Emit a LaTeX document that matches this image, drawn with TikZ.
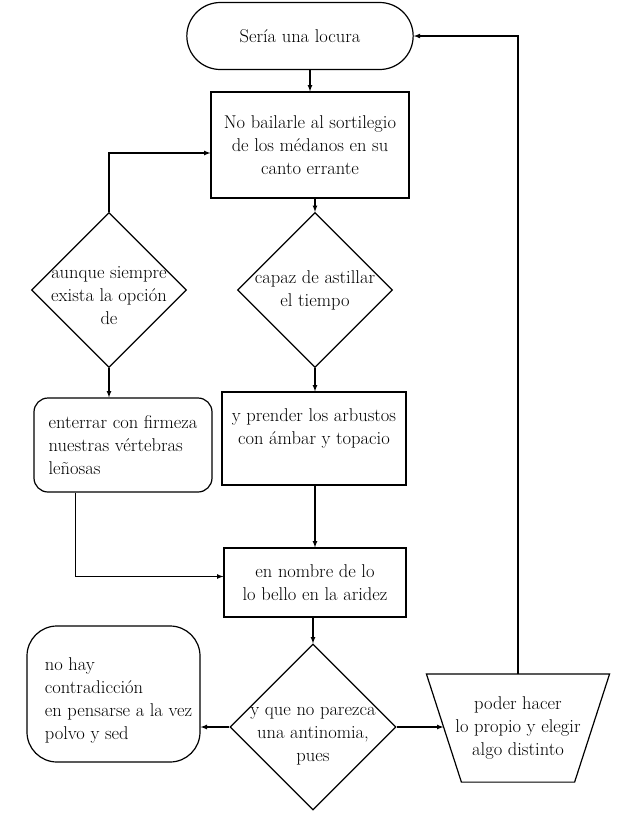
\documentclass[tikz,border=0pt]{standalone}
\usepackage{fontspec}
\usetikzlibrary{shapes.geometric,shapes.misc}

\begin{document}
\begin{tikzpicture}[x=1pt, y=-1pt,
    >=latex,   %Pfeilspitzen
    line width=1.2pt,
    font=\fontsize{18.5}{23}\selectfont,
    startknoten/.style={draw, rounded rectangle, minimum width=233pt, minimum height=67pt},
    kasten/.style={draw, align=center, inner sep=0pt},
    rundkasten/.style={draw, align=left, inner sep=0pt, rounded corners=#1},
    entscheidung/.style={draw, diamond, minimum width=#1, minimum height=#1, inner sep=0pt},
    trapez/.style={align=center, inner sep=0pt, minimum width=182pt, minimum height=107pt}]
    %Bildbereich
    \useasboundingbox (0,0) rectangle (629,815);
    %Knoten
    \node[startknoten] (start) at (300,36) {Sería una locura};
    \node[kasten, minimum width=198pt, minimum height=106pt] (bailar) at (310,145)
        {No bailarle al sortilegio\\de los médanos en su\\canto errante};
    \node[entscheidung=155pt, label={[align=center, yshift=-6pt]center:aunque siempre\\exista la opción\\de}] (opcion) at (109,290) {};
    \node[entscheidung=155pt, label={[align=center]center:capaz de astillar\\el tiempo}] (astillar) at (315,290) {};
    \node[rundkasten=14pt, minimum width=178pt, minimum height=94pt] (enterrar) at (123,445)
        {enterrar con firmeza\\nuestras vértebras\\leñosas};
    \node[kasten, minimum width=184pt, minimum height=93pt] (prender) at (314,438.5)
        {y prender los arbustos\\con ámbar y topacio\\\mbox{}};
    \node[kasten, minimum width=182pt, minimum height=69pt] (nombre) at (315,582.5)
        {en nombre de lo\\lo bello en la aridez};
    \node[entscheidung=166pt, label={[align=center, yshift=-9pt]center:y que no parezca\\una antinomia,\\pues}] (antinomia) at (313,727) {};
    \node[rundkasten=30pt, minimum width=173pt, minimum height=136pt,
        label={[align=left, xshift=5pt, yshift=-6pt]center:no hay\\contradicción\\en pensarse a la vez\\polvo y sed}] (polvo) at (113.5,694) {};
    \node[trapez] (elegir) at (518,728)
        {poder hacer\\lo propio y elegir\\algo distinto};
    %Trapez zeichnen
    \draw (elegir.north west) -- (elegir.north east) -- ([xshift=-35pt]elegir.south east)
        -- ([xshift=35pt]elegir.south west) -- cycle;
    %Pfeile
    \draw[->] (bailar.north |- start.south) -- (bailar.north);
    \draw[->] (astillar.north |- bailar.south) -- (astillar.north);
    \draw[->] (opcion.north) |- ([yshift=-8pt]bailar.west);
    \draw[->] (opcion.south) -- (opcion.south |- enterrar.north);
    \draw[->] (astillar.south) -- (astillar.south |- prender.north);
    \draw[->] (nombre.north |- prender.south) -- (nombre.north);
    \draw[->] ([xshift=42pt]enterrar.south west) |- ([yshift=6pt]nombre.west);
    \draw[->] (antinomia.north |- nombre.south) -- (antinomia.north);
    \draw[->] (antinomia.west) -- (antinomia.west -| polvo.east);
    \draw[->] (antinomia.east) -- ([xshift=17pt]antinomia.east -| elegir.west);
    \draw[->] (elegir.north) |- (start.east);
\end{tikzpicture}
\end{document}
